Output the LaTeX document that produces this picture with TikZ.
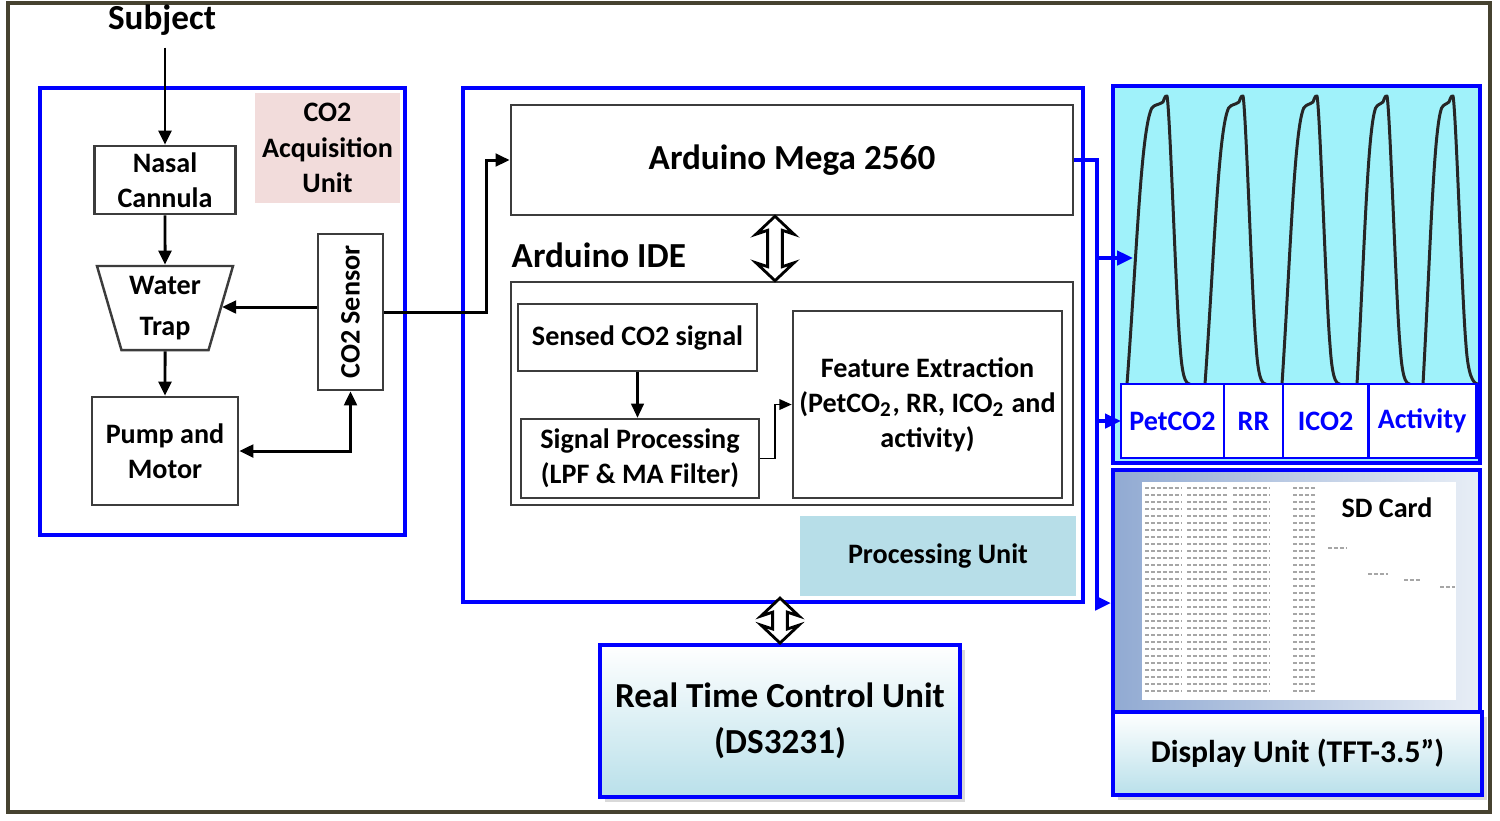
\documentclass[tikz,border=0pt]{standalone}
\usepackage{fontspec}
\setmainfont{Carlito}
\usetikzlibrary{arrows.meta,positioning,shapes.geometric,shadows,calc}
\begin{document}
\begin{tikzpicture}[x=0.01cm,y=-0.01cm]
      \newcommand{\smallfont}[0]{\bfseries\fontsize{8}{10}\selectfont}
      \newcommand{\bigfont}[0]{\bfseries\fontsize{10}{12.5}\selectfont}
      \newcommand{\hollowarrow}[2]{%
        \draw[hollow] let \p1=#1, \p2=#2 in
          (\x1,\y1) -- (\x1+5.4pt,\y1-5.1pt) -- (\x1+2.1pt,\y1-4pt) -- (\x2+2.1pt,\y2+4pt)
          -- (\x2+5.4pt,\y2+5.1pt) -- (\x2,\y2) -- (\x2-5.4pt,\y2+5.1pt) -- (\x2-2.1pt,\y2+4pt)
          -- (\x1-2.1pt,\y1-4pt) -- (\x1-5.4pt,\y1-5.1pt) -- cycle;}

      \definecolor{framecol}{RGB}{70,66,48}
      \definecolor{unitblue}{RGB}{0,0,255}
      \definecolor{boxgray}{RGB}{60,60,60}
      \definecolor{acqpink}{RGB}{242,220,219}
      \definecolor{procblue}{RGB}{183,222,232}
      \definecolor{wavecyan}{RGB}{160,242,250}
      \definecolor{sdsteel}{RGB}{145,170,210}
      \definecolor{sdlight}{RGB}{232,238,246}
      \definecolor{rtcblue}{RGB}{185,224,234}

      \tikzstyle{unit} = [draw=unitblue, line width=1.1pt, inner sep=0pt]
      \tikzstyle{block} = [
        draw=boxgray,
        line width=0.7pt,
        fill=white,
        align=center,
        font=\smallfont,
        inner sep=1pt
      ]
      \tikzstyle{valuebox} = [draw=unitblue, line width=0.8pt, fill=white, text=unitblue,
        font=\smallfont, minimum height=0.74cm, inner sep=0pt, outer sep=0pt]
      \tikzstyle{arrow} = [line width=0.85pt, -{Triangle[length=4pt,width=3.6pt]}, draw=black]
      \tikzstyle{biarrow} = [line width=0.85pt, {Triangle[length=4pt,width=3.6pt]}-{Triangle[length=4pt,width=3.6pt]}, draw=black]
      \tikzstyle{thinarrow} = [line width=0.5pt, -{Triangle[length=3.5pt,width=3pt]}, draw=black]
      \tikzstyle{hollow} = [draw=black, fill=white, line width=0.8pt, line join=miter]
      \tikzstyle{busarrow} = [draw=unitblue, line width=1.1pt, -{Triangle[length=4.5pt,width=4pt]}]
      \tikzstyle{wave} = [line width=0.85pt, draw=black!85, line join=round]
      \tikzstyle{sdtext} = [draw=black!35, line width=0.35pt, dash pattern=on 1.2pt off 0.5pt]

      \useasboundingbox (0,0) rectangle (1500,820);
      \draw[framecol, line width=0.9pt] (8,3) rectangle (1490,812);

      % acquisition side
      \node[font=\bigfont] (subject) at (162,20) {Subject};
      \node[unit, minimum width=3.65cm, minimum height=4.47cm] (acq) at (222.5,311.5) {};
      \node[fill=acqpink, minimum width=1.45cm, minimum height=1.10cm, align=center,
            font=\smallfont, inner sep=0pt] (acqlabel) at (327.5,148) {CO2\\Acquisition\\Unit};
      \node[block, minimum width=1.41cm, minimum height=0.68cm] (nasal) at (165,180) {Nasal\\Cannula};
      \node[block, trapezium, shape border rotate=180, trapezium left angle=72.5,
            trapezium right angle=72.5, trapezium stretches=true,
            minimum width=1.36cm, minimum height=0.84cm,
            font=\bfseries\fontsize{8}{11.5}\selectfont] (trap) at (165,308) {Water\\Trap};
      \node[block, minimum width=1.46cm, minimum height=1.08cm] (pump) at (165,451) {Pump and\\Motor};
      \node[block, minimum width=0.65cm, minimum height=1.56cm] (sensor) at (350.5,312) {\rotatebox{90}{CO2 Sensor}};

      % processing unit
      \node[unit, minimum width=6.20cm, minimum height=5.14cm] (proc) at (773,345) {};
      \node[fill=procblue, minimum width=2.76cm, minimum height=0.80cm, font=\smallfont] (proclabel) at (938,556) {Processing Unit};
      \node[block, font=\bigfont, minimum width=5.62cm, minimum height=1.10cm] (mega) at (792,160) {Arduino Mega 2560};
      \node[font=\bigfont, anchor=west, inner sep=0pt] (idelabel) at (511,255) {Arduino IDE};
      \node[block, minimum width=5.62cm, minimum height=2.23cm] (ide) at (792,393.5) {};
      \node[block, minimum width=2.39cm, minimum height=0.67cm] (sensed) at (637.5,337.5) {Sensed CO2 signal};
      \node[block, minimum width=2.38cm, minimum height=0.79cm] (sigproc) at (640,458.5) {Signal Processing\\(LPF \& MA Filter)};
      \node[block, minimum width=2.69cm, minimum height=1.87cm] (feature) at (927.5,404.5)
            {Feature Extraction\\(PetCO\textsubscript{2}, RR, ICO\textsubscript{2} and\\activity)};

      \node[unit, top color=white, bottom color=rtcblue, minimum width=3.60cm, minimum height=1.52cm,
            align=center, font=\bfseries\fontsize{10}{13}\selectfont,
            drop shadow={shadow xshift=1.5pt, shadow yshift=-1.5pt, opacity=0.3}] (rtc) at (780,721)
            {Real Time Control Unit\\(DS3231)};

      % display side
      \node[unit, fill=wavecyan, minimum width=3.67cm, minimum height=3.77cm] (wave) at (1296.5,274.5) {};
      \foreach \s/\p/\e in {1127/1167/1190, 1205/1243/1266, 1282/1317/1340, 1357/1387/1410, 1423/1453/1478} {
        \pgfmathsetmacro{\w}{\p-\s}
        \draw[wave] (\s,384) .. controls (\s+0.25*\w,250) and (\s+0.35*\w,130) .. (\s+0.62*\w,108)
          .. controls (\s+0.7*\w,104) and (\p-8,105) .. (\p-4,102)
          .. controls (\p-2,96) and (\p-1,95) .. (\p,96)
          .. controls (\p+3,110) and (\p+9,300) .. (\p+13,345)
          .. controls (\p+15,375) and (\e-5,384) .. (\e,384);
      }
      \node[valuebox, minimum width=1.03cm] (pet) at (1172.5,421) {PetCO2};
      \node[valuebox, minimum width=0.59cm, right=0cm of pet] (rr) {RR};
      \node[valuebox, minimum width=0.85cm, right=0cm of rr] (ico) {ICO2};
      \node[valuebox, minimum width=1.08cm, right=0cm of ico] (act) {Activity};

      \node[unit, left color=sdsteel, right color=sdlight, minimum width=3.67cm, minimum height=2.42cm] (sd) at (1296.5,591) {};
      \node[fill=white, minimum width=3.14cm, minimum height=2.18cm, inner sep=0pt] (sdsheet) at (1299,591) {};
      \foreach \r in {0,...,29} {
        \draw[sdtext] (1145,488+7*\r) -- (1182,488+7*\r);
        \draw[sdtext] (1187,488+7*\r) -- (1228,488+7*\r);
        \draw[sdtext] (1233,488+7*\r) -- (1270,488+7*\r);
        \draw[sdtext] (1293,488+7*\r) -- (1316,488+7*\r);
      }
      \draw[sdtext] (1328,548) -- (1346,548);
      \draw[sdtext] (1368,574) -- (1388,574);
      \draw[sdtext] (1404,580) -- (1420,580);
      \draw[sdtext] (1440,587) -- (1455,587);
      \node[font=\smallfont] (sdtitle) at (1387,508) {SD Card};

      \node[unit, top color=white, bottom color=rtcblue, minimum width=3.69cm, minimum height=0.83cm,
            font=\bfseries\fontsize{9}{11}\selectfont,
            drop shadow={shadow xshift=1.5pt, shadow yshift=-1.5pt, opacity=0.3}] (display) at (1297.5,753.5)
            {Display Unit (TFT-3.5”)};

      % connectors
      \coordinate (bus) at (1097,0);
      \coordinate (wavein) at (1133,258);

      \draw[arrow] (nasal.north |- subject.south) -- (nasal.north);
      \draw[arrow] (nasal.south) -- (trap.north);
      \draw[arrow] (trap.south) -- (pump.north);
      \draw[arrow] ([yshift=0.05cm]sensor.west) -- ([yshift=0.05cm]sensor.west -| trap.east);
      \draw[biarrow] (pump.east) -- (pump.east -| sensor.south) -- (sensor.south);
      \draw[arrow] (sensor.east) -- ++(102,0) |- (mega.west);
      \hollowarrow{([xshift=-0.17cm]mega.south)}{([xshift=-0.17cm]mega.south |- ide.north)}
      \draw[arrow, line width=0.6pt] (sensed.south) -- (sensed.south |- sigproc.north);
      \draw[thinarrow] (sigproc.east) -- ++(15,0) |- (feature.west);
      \hollowarrow{([yshift=0.06cm]rtc.north |- proc.south)}{(rtc.north)}

      \draw[busarrow] (mega.east) -- (mega.east -| bus) |- ([yshift=-0.12cm]sd.west);
      \draw[busarrow] (bus |- wavein) -- (wavein);
      \draw[busarrow] (bus |- pet.west) -- (pet.west);
\end{tikzpicture}
\end{document}
